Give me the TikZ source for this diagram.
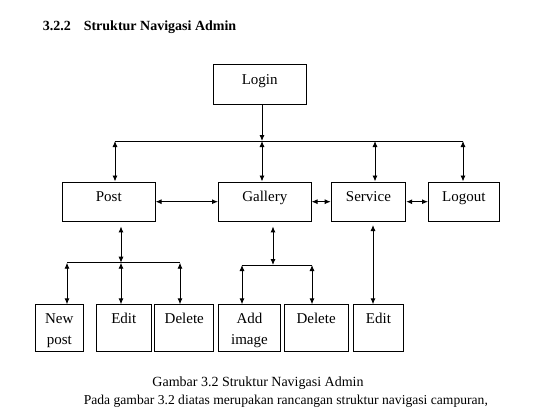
\documentclass[tikz,border=0pt]{standalone}
\usepackage{fontspec}
\setmainfont{Liberation Serif}
\usepackage{tikz}
\usetikzlibrary{arrows.meta}

\tikzset{
  menu/.style={draw, anchor=north west, inner sep=0pt, text width=#1, align=center,
    text height=19.5pt, text depth=20pt, font=\fontsize{15}{18}\selectfont},
  submenu/.style={menu=#1, text height=19pt, text depth=28pt, font=\fontsize{15}{21}\selectfont},
}

\begin{document}
\begin{tikzpicture}[>={Latex[length=6pt, width=5pt]}, x=1pt, y=-1pt, line width=0.9pt]

\useasboundingbox[fill=white] (0,0) rectangle (533,420);

% Heading and caption
\node[anchor=base west, font=\fontsize{14}{16}\selectfont\bfseries] (num) at (39,31) {3.2.2};
\node[anchor=base west, font=\fontsize{14}{16}\selectfont\bfseries] (title) at (80,31) {Struktur Navigasi Admin};
\node[anchor=base, font=\fontsize{14}{16}\selectfont] (caption) at (258,386) {Gambar 3.2 Struktur Navigasi Admin};
\node[anchor=base west, font=\fontsize{13.6}{16}\selectfont] (para) at (80,404) {Pada gambar 3.2 diatas merupakan rancangan struktur navigasi campuran,};

% Nodes
\node[menu=92.5pt, text height=20pt] (login) at (213,64) {Login};
\node[menu=92.7pt] (post) at (62,181.5) {Post};
\node[menu=92.7pt] (gallery) at (218,181.5) {Gallery};
\node[menu=74.6pt] (service) at (330.7,181.5) {Service};
\node[menu=70.7pt] (logout) at (428,181.5) {Logout};

\node[submenu=47.7pt] (newpost) at (35,304.3) {New\\post};
\node[submenu=54.7pt] (editpost) at (96,304.3) {Edit};
\node[submenu=59pt] (delpost) at (154.3,304.3) {Delete};
\node[submenu=62pt] (addimg) at (218,304.3) {Add\\image};
\node[submenu=64pt] (delimg) at (283.7,304.3) {Delete};
\node[submenu=49.4pt] (editsvc) at (353.3,304.3) {Edit};

% Junctions
\coordinate (busL) at (115,141);
\coordinate (busG) at (262,141);
\coordinate (busS) at (375,141);
\coordinate (busR) at (463,141);

\coordinate (pMid) at (121,262.7);
\coordinate (pL) at (67,262.7);
\coordinate (pR) at (180,262.7);

\coordinate (gMid) at (273,265);
\coordinate (gL) at (242,265);
\coordinate (gR) at (312,265);

\coordinate (sTop) at (373,225);

% Arrows - main level
\draw[->] (login.south -| busG) -- (busG);
\draw (busL) -- (busR);
\draw[<->] (busL) -- (busL |- post.north);
\draw[<->] (busG) -- (busG |- gallery.north);
\draw[<->] (busS) -- (busS |- service.north);
\draw[<->] (busR) -- (busR |- logout.north);

% Arrows - horizontal
\draw[<->] (post) -- (gallery);
\draw[<->] (gallery) -- (service);
\draw[<->] (service) -- (logout);

% Arrows - Post
\draw[<->, shorten <=4.5pt] (post.south -| pMid) -- (pMid);
\draw (pL) -- (pR);
\draw[<->] (pL) -- (pL |- newpost.north);
\draw[<->] (pMid) -- (pMid |- editpost.north);
\draw[<->] (pR) -- (pR |- delpost.north);

% Arrows - Gallery
\draw[<->, shorten <=4.5pt] (gallery.south -| gMid) -- (gMid);
\draw (gL) -- (gR);
\draw[<->] (gL) -- (gL |- addimg.north);
\draw[<->] (gR) -- (gR |- delimg.north);

% Arrows - Service
\draw[<->] (sTop) -- (sTop |- editsvc.north);

\end{tikzpicture}
\end{document}
